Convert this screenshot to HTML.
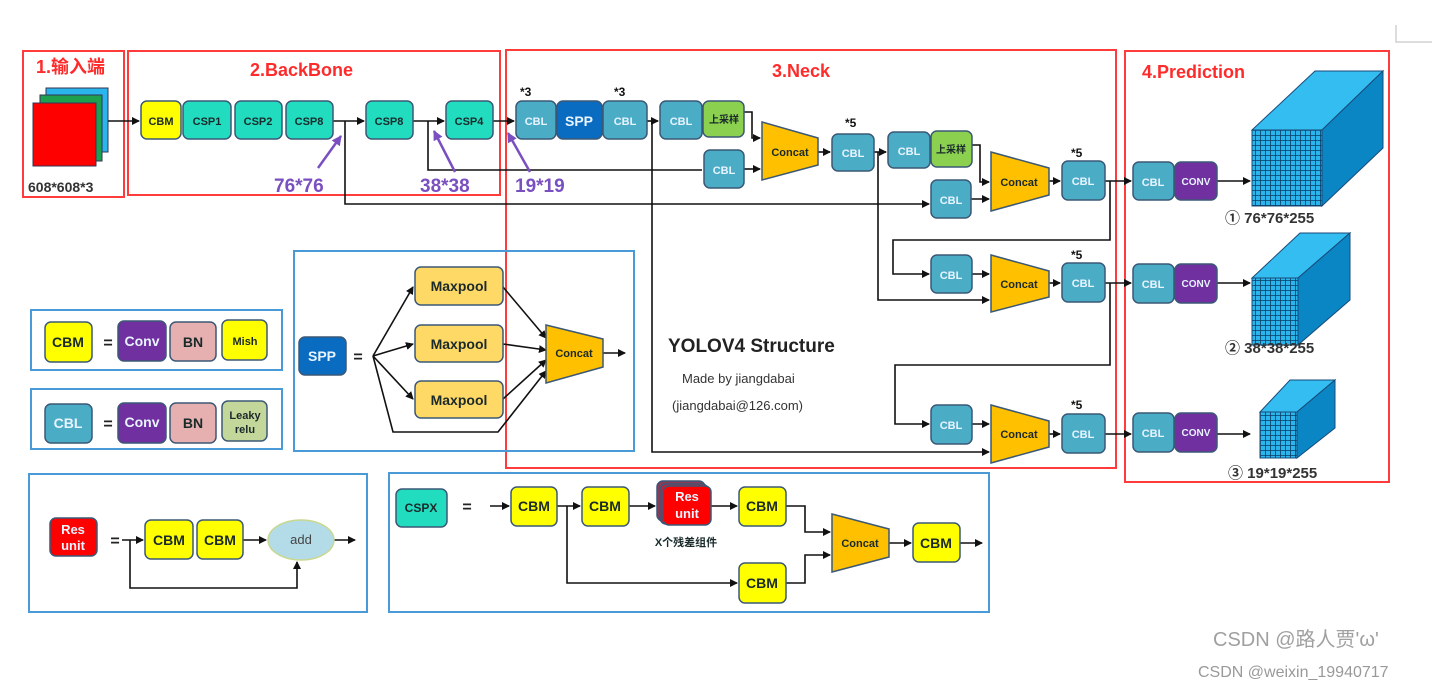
<!DOCTYPE html>
<html><head><meta charset="utf-8"><style>
html,body{margin:0;padding:0;background:#fff;}
svg{display:block;}
text{font-family:"Liberation Sans","Noto Sans CJK SC",sans-serif;font-weight:bold;}
text.n{font-weight:normal;}
</style></head><body>
<svg width="1443" height="690" viewBox="0 0 1443 690" xmlns="http://www.w3.org/2000/svg">
<defs>
<marker id="a" markerWidth="8" markerHeight="8" refX="7" refY="4" orient="auto" markerUnits="userSpaceOnUse"><path d="M0,0 L8,4 L0,8 z" fill="#111"/></marker>
<marker id="p" markerWidth="10" markerHeight="10" refX="9" refY="5" orient="auto" markerUnits="userSpaceOnUse"><path d="M0,0 L10,5 L0,10 z" fill="#7a4fc0"/></marker>
<pattern id="g" width="5" height="5" patternUnits="userSpaceOnUse"><rect width="5" height="5" fill="#2ab6ec"/><path d="M0,0H5M0,0V5" stroke="#0a3d66" stroke-width="1.6"/></pattern>
</defs>
<path d="M1396,25 V42 H1432" stroke="#bbb" fill="none"/>
<g fill="none" stroke="#ff3b3b" stroke-width="2">
<rect x="23" y="51" width="101" height="146"/>
<rect x="128" y="51" width="372" height="144"/>
<rect x="506" y="50" width="610" height="418"/>
<rect x="1125" y="51" width="264" height="431"/>
</g>
<g fill="none" stroke="#4a9ad8" stroke-width="2">
<rect x="31" y="310" width="251" height="60"/>
<rect x="31" y="389" width="251" height="60"/>
<rect x="294" y="251" width="340" height="200"/>
<rect x="29" y="474" width="338" height="138"/>
<rect x="389" y="473" width="600" height="139"/>
</g>
<g fill="#ff2b2b" font-size="18">
<text x="36" y="73">1.输入端</text>
<text x="250" y="76">2.BackBone</text>
<text x="772" y="77">3.Neck</text>
<text x="1142" y="78">4.Prediction</text>
</g>
<rect x="46" y="88" width="62" height="64" fill="#2ab6ec" stroke="#335"/>
<rect x="40" y="95" width="62" height="66" fill="#1fa050" stroke="#335"/>
<rect x="33" y="103" width="63" height="63" fill="#ff0000" stroke="#335"/>
<text x="28" y="192" font-size="14" fill="#333">608*608*3</text>

<g stroke="#111" stroke-width="1.6" fill="none">
<path d="M108,121H139" marker-end="url(#a)"/>
<path d="M333,121H364" marker-end="url(#a)"/>
<path d="M413,121H444" marker-end="url(#a)"/>
<path d="M493,121H514" marker-end="url(#a)"/>
<path d="M647,121H658" marker-end="url(#a)"/>
<path d="M345,121V204H929" marker-end="url(#a)"/>
<path d="M428,121V170H702"/>
<path d="M744,169H760" marker-end="url(#a)"/>
<path d="M652,121V452H989" marker-end="url(#a)"/>
<path d="M744,112H752V138H760" marker-end="url(#a)"/>
<path d="M818,152H830" marker-end="url(#a)"/>
<path d="M874,152H886" marker-end="url(#a)"/>
<path d="M878,152V300H989" marker-end="url(#a)"/>
<path d="M972,145H980V182H989" marker-end="url(#a)"/>
<path d="M971,199H989" marker-end="url(#a)"/>
<path d="M1049,181H1060" marker-end="url(#a)"/>
<path d="M1105,181H1131" marker-end="url(#a)"/>
<path d="M1110,181V240H893V274H929" marker-end="url(#a)"/>
<path d="M972,274H989" marker-end="url(#a)"/>
<path d="M1049,283H1060" marker-end="url(#a)"/>
<path d="M1105,283H1131" marker-end="url(#a)"/>
<path d="M1110,283V365H895V424H929" marker-end="url(#a)"/>
<path d="M972,424H989" marker-end="url(#a)"/>
<path d="M1049,434H1060" marker-end="url(#a)"/>
<path d="M1105,434H1131" marker-end="url(#a)"/>
<path d="M1217,181H1250" marker-end="url(#a)"/>
<path d="M1217,283H1250" marker-end="url(#a)"/>
<path d="M1217,434H1250" marker-end="url(#a)"/>
<path d="M373,356L413,287" marker-end="url(#a)"/>
<path d="M373,356L413,344" marker-end="url(#a)"/>
<path d="M373,356L413,399" marker-end="url(#a)"/>
<path d="M373,356L393,432H498L546,371" marker-end="url(#a)"/>
<path d="M503,287L546,338" marker-end="url(#a)"/>
<path d="M503,344L546,350" marker-end="url(#a)"/>
<path d="M503,399L546,360" marker-end="url(#a)"/>
<path d="M603,353H625" marker-end="url(#a)"/>
<path d="M122,540H143" marker-end="url(#a)"/>
<path d="M130,540V588H297V562" marker-end="url(#a)"/>
<path d="M243,540H266" marker-end="url(#a)"/>
<path d="M334,540H355" marker-end="url(#a)"/>
<path d="M490,506H509" marker-end="url(#a)"/>
<path d="M557,506H580" marker-end="url(#a)"/>
<path d="M567,506V583H737" marker-end="url(#a)"/>
<path d="M629,506H655" marker-end="url(#a)"/>
<path d="M711,506H737" marker-end="url(#a)"/>
<path d="M786,506H805V532H830" marker-end="url(#a)"/>
<path d="M786,583H805V555H830" marker-end="url(#a)"/>
<path d="M889,543H911" marker-end="url(#a)"/>
<path d="M960,543H982" marker-end="url(#a)"/>
</g>
<g stroke="#7a4fc0" stroke-width="2.5" fill="none">
<path d="M318,168L341,136" marker-end="url(#p)"/><path d="M455,172L434,131" marker-end="url(#p)"/><path d="M530,172L508,133" marker-end="url(#p)"/>
</g>
<g fill="#7a4fc0" font-size="19">
<text x="274" y="192">76*76</text><text x="420" y="192">38*38</text><text x="515" y="192">19*19</text>
</g>

<g stroke="#3b5876" stroke-width="1.5">
<rect x="141" y="101" width="40" height="38" rx="6" fill="#ffff00"/>
<rect x="183" y="101" width="48" height="38" rx="6" fill="#22dcc0"/>
<rect x="235" y="101" width="47" height="38" rx="6" fill="#22dcc0"/>
<rect x="286" y="101" width="47" height="38" rx="6" fill="#22dcc0"/>
<rect x="366" y="101" width="47" height="38" rx="6" fill="#22dcc0"/>
<rect x="446" y="101" width="47" height="38" rx="6" fill="#22dcc0"/>
<rect x="516" y="101" width="40" height="38" rx="6" fill="#4bacc6"/>
<rect x="557" y="101" width="45" height="38" rx="6" fill="#0a6cc0"/>
<rect x="603" y="101" width="44" height="38" rx="6" fill="#4bacc6"/>
<rect x="660" y="101" width="42" height="38" rx="6" fill="#4bacc6"/>
<rect x="703" y="101" width="41" height="36" rx="6" fill="#8cd050"/>
<rect x="704" y="150" width="40" height="38" rx="6" fill="#4bacc6"/>
<rect x="832" y="134" width="42" height="37" rx="6" fill="#4bacc6"/>
<rect x="888" y="132" width="42" height="36" rx="6" fill="#4bacc6"/>
<rect x="931" y="131" width="41" height="36" rx="6" fill="#8cd050"/>
<rect x="931" y="180" width="40" height="38" rx="6" fill="#4bacc6"/>
<rect x="1062" y="161" width="43" height="39" rx="6" fill="#4bacc6"/>
<rect x="931" y="255" width="41" height="38" rx="6" fill="#4bacc6"/>
<rect x="1062" y="263" width="43" height="39" rx="6" fill="#4bacc6"/>
<rect x="931" y="405" width="41" height="39" rx="6" fill="#4bacc6"/>
<rect x="1062" y="414" width="43" height="39" rx="6" fill="#4bacc6"/>
<rect x="1133" y="162" width="41" height="38" rx="6" fill="#4bacc6"/>
<rect x="1175" y="162" width="42" height="38" rx="6" fill="#7030a0"/>
<rect x="1133" y="264" width="41" height="39" rx="6" fill="#4bacc6"/>
<rect x="1175" y="264" width="42" height="39" rx="6" fill="#7030a0"/>
<rect x="1133" y="413" width="41" height="39" rx="6" fill="#4bacc6"/>
<rect x="1175" y="413" width="42" height="39" rx="6" fill="#7030a0"/>
<path d="M762,122L818,138V165L762,180Z" fill="#ffc000"/>
<path d="M991,152L1049,168V195L991,211Z" fill="#ffc000"/>
<path d="M991,255L1049,271V297L991,312Z" fill="#ffc000"/>
<path d="M991,405L1049,421V447L991,463Z" fill="#ffc000"/>
<path d="M546,325L603,339V367L546,383Z" fill="#ffc000"/>
<path d="M832,514L889,529V557L832,572Z" fill="#ffc000"/>
<rect x="299" y="337" width="47" height="38" rx="6" fill="#0a6cc0"/>
<rect x="415" y="267" width="88" height="38" rx="6" fill="#ffd966"/>
<rect x="415" y="325" width="88" height="37" rx="6" fill="#ffd966"/>
<rect x="415" y="381" width="88" height="37" rx="6" fill="#ffd966"/>
<rect x="45" y="322" width="47" height="40" rx="6" fill="#ffff00"/>
<rect x="118" y="321" width="48" height="40" rx="6" fill="#7030a0"/>
<rect x="170" y="322" width="46" height="39" rx="6" fill="#e6b0b0"/>
<rect x="222" y="320" width="45" height="40" rx="6" fill="#ffff00"/>
<rect x="45" y="404" width="47" height="39" rx="6" fill="#4bacc6"/>
<rect x="118" y="403" width="48" height="40" rx="6" fill="#7030a0"/>
<rect x="170" y="403" width="46" height="40" rx="6" fill="#e6b0b0"/>
<rect x="222" y="401" width="45" height="40" rx="6" fill="#c4d79b"/>
<rect x="50" y="518" width="47" height="38" rx="6" fill="#ff0000"/>
<rect x="145" y="520" width="48" height="39" rx="6" fill="#ffff00"/>
<rect x="197" y="520" width="46" height="39" rx="6" fill="#ffff00"/>
<ellipse cx="301" cy="540" rx="33" ry="20" fill="#b4dce8" stroke="#c8d890"/>
<rect x="396" y="489" width="51" height="38" rx="6" fill="#22dcc0"/>
<rect x="511" y="487" width="46" height="39" rx="6" fill="#ffff00"/>
<rect x="582" y="487" width="47" height="39" rx="6" fill="#ffff00"/>
<rect x="657" y="481" width="48" height="40" rx="6" fill="#8a3a5a"/>
<rect x="660" y="484" width="48" height="40" rx="6" fill="#c0203a"/>
<rect x="663" y="486" width="48" height="39" rx="6" fill="#ff0000"/>
<rect x="739" y="487" width="47" height="39" rx="6" fill="#ffff00"/>
<rect x="739" y="563" width="47" height="40" rx="6" fill="#ffff00"/>
<rect x="913" y="523" width="47" height="39" rx="6" fill="#ffff00"/>
</g>
<g font-size="11" text-anchor="middle" fill="#1a2a2a">
<text x="161" y="125">CBM</text><text x="207" y="125">CSP1</text><text x="258" y="125">CSP2</text><text x="309" y="125">CSP8</text><text x="389" y="125">CSP8</text><text x="469" y="125">CSP4</text>
<text x="724" y="123" font-size="10">上采样</text><text x="951" y="153" font-size="10">上采样</text>
<text x="790" y="156">Concat</text><text x="1019" y="186">Concat</text><text x="1019" y="288">Concat</text><text x="1019" y="438">Concat</text><text x="574" y="357">Concat</text><text x="860" y="547">Concat</text>
<text x="459" y="291" font-size="14">Maxpool</text><text x="459" y="349" font-size="14">Maxpool</text><text x="459" y="405" font-size="14">Maxpool</text>
<text x="68" y="347" font-size="14">CBM</text><text x="193" y="347" font-size="14">BN</text><text x="245" y="345">Mish</text>
<text x="193" y="428" font-size="14">BN</text><text x="245" y="419">Leaky</text><text x="245" y="433">relu</text>
<text x="169" y="545" font-size="14">CBM</text><text x="220" y="545" font-size="14">CBM</text><text class="n" x="301" y="544" fill="#444" font-size="13">add</text>
<text x="421" y="512" font-size="12">CSPX</text><text x="534" y="511" font-size="14">CBM</text><text x="605" y="511" font-size="14">CBM</text><text x="762" y="511" font-size="14">CBM</text><text x="762" y="588" font-size="14">CBM</text><text x="936" y="548" font-size="14">CBM</text>
<text x="686" y="546" font-size="11">X个残差组件</text>
</g>
<g font-size="11" text-anchor="middle" fill="#e8f4ff">
<text x="536" y="125">CBL</text><text x="579" y="126" font-size="14">SPP</text><text x="625" y="125">CBL</text><text x="681" y="125">CBL</text><text x="724" y="174">CBL</text><text x="853" y="157">CBL</text><text x="909" y="155">CBL</text><text x="951" y="204">CBL</text><text x="1083" y="185">CBL</text>
<text x="951" y="279">CBL</text><text x="1083" y="287">CBL</text><text x="951" y="429">CBL</text><text x="1083" y="438">CBL</text>
<text x="1153" y="186">CBL</text><text x="1196" y="185" font-size="10">CONV</text><text x="1153" y="288">CBL</text><text x="1196" y="287" font-size="10">CONV</text><text x="1153" y="437">CBL</text><text x="1196" y="436" font-size="10">CONV</text>
<text x="322" y="361" font-size="14">SPP</text><text x="142" y="346" font-size="14">Conv</text><text x="68" y="428" font-size="14">CBL</text><text x="142" y="427" font-size="14">Conv</text>
<text x="73" y="534" font-size="13">Res</text><text x="73" y="550" font-size="13">unit</text>
<text x="687" y="501" font-size="13">Res</text><text x="687" y="518" font-size="13">unit</text>
</g>
<g font-size="16" fill="#222" text-anchor="middle">
<text x="108" y="348">=</text><text x="108" y="429">=</text><text x="358" y="362">=</text><text x="115" y="546">=</text><text x="467" y="512">=</text>
</g>
<g font-size="12" fill="#111"><text x="520" y="96">*3</text><text x="614" y="96">*3</text><text x="845" y="127">*5</text><text x="1071" y="157">*5</text><text x="1071" y="259">*5</text><text x="1071" y="409">*5</text></g>
<text x="668" y="352" font-size="19" fill="#222">YOLOV4 Structure</text>
<text class="n" x="682" y="383" font-size="13" fill="#333">Made by jiangdabai</text>
<text class="n" x="672" y="410" font-size="13" fill="#333">(jiangdabai@126.com)</text>
<g stroke="#1a4a7a" stroke-width="1">
<path d="M1252,130L1315,71H1383L1322,130Z" fill="#33bdf0"/>
<path d="M1322,130L1383,71V148L1322,206Z" fill="#0a86c4"/>
<rect x="1252" y="130" width="70" height="76" fill="url(#g)"/>
<path d="M1252,278L1300,233H1350L1298,278Z" fill="#33bdf0"/>
<path d="M1298,278L1350,233V300L1298,345Z" fill="#0a86c4"/>
<rect x="1252" y="278" width="46" height="67" fill="url(#g)"/>
<path d="M1260,412L1290,380H1335L1297,412Z" fill="#33bdf0"/>
<path d="M1297,412L1335,380V428L1297,458Z" fill="#0a86c4"/>
<rect x="1260" y="412" width="37" height="46" fill="url(#g)"/>
</g>
<g font-size="15" fill="#333"><text x="1225" y="223">① 76*76*255</text><text x="1225" y="353">② 38*38*255</text><text x="1228" y="478">③ 19*19*255</text></g>
<text class="n" x="1213" y="646" font-size="20" fill="#a0a0a0">CSDN @路人贾'ω'</text>
<text class="n" x="1198" y="677" font-size="16" fill="#999">CSDN @weixin_19940717</text>
</svg>
</body></html>
